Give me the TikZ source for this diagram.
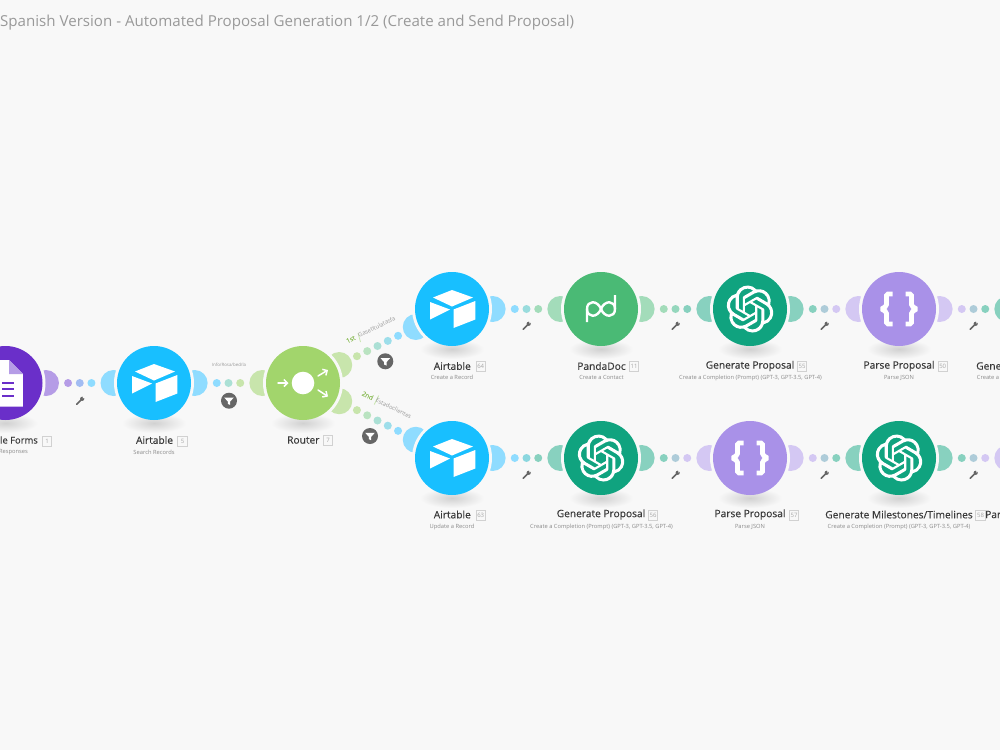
\documentclass[tikz,border=0pt]{standalone}
\usepackage{fontspec}
\setmainfont{Open Sans}
\newfontfamily\semifont[FakeBold=0.35]{Open Sans}
\usetikzlibrary{arrows.meta,calc,svg.path}
\definecolor{bg}{HTML}{F8F8F8}
\definecolor{airc}{HTML}{18BFFF}
\definecolor{airl}{HTML}{8FDCFF}
\definecolor{formc}{HTML}{6A2FC9}
\definecolor{forml}{HTML}{B59CE6}
\definecolor{routc}{HTML}{A2D56C}
\definecolor{routl}{HTML}{C8E5AC}
\definecolor{pandc}{HTML}{4ABA75}
\definecolor{pandl}{HTML}{A3DCBA}
\definecolor{oaic}{HTML}{10A37F}
\definecolor{oail}{HTML}{88D1BF}
\definecolor{jsonc}{HTML}{A991E8}
\definecolor{jsonl}{HTML}{D4C8F3}
\definecolor{titlec}{HTML}{3A3A3A}
\definecolor{subc}{HTML}{8A8A8A}
\tikzset{
  modnode/.style={circle,minimum size=74pt,inner sep=0pt,draw=none},
  maskdisc/.style={circle,minimum size=80pt,inner sep=0pt,fill=bg,draw=none},
  eardisc/.style={circle,minimum size=26pt,inner sep=0pt,draw=none},
  linkdot/.style={circle,minimum size=8pt,inner sep=0pt,draw=none},
  titletext/.style={inner sep=0pt,text=titlec,font=\semifont\fontsize{10.2}{12}\selectfont},
  subtext/.style={inner sep=0pt,text=subc,font=\fontsize{5.75}{7}\selectfont},
  badge/.style={draw=black!18,line width=.6pt,minimum width=9.5pt,minimum height=10pt,inner sep=0pt,text=black!35,font=\fontsize{6}{7}\selectfont},
  filterdisc/.style={circle,minimum size=16pt,inner sep=0pt,fill=black!60,draw=none},
  tinylabel/.style={inner sep=0pt,text=black!40,font=\fontsize{4.4}{6}\selectfont},
  tinyroute/.style={inner sep=0pt,text=black!40,font=\fontsize{5.8}{7}\selectfont},
  ordlabel/.style={inner sep=0pt,text=routc!90!black,font=\semifont\fontsize{6.5}{8}\selectfont},
  airicon/.pic={
    \fill[white] (0,-19)--(21,-11.5)--(0,-2.5)--(-19,-11.5)--cycle;
    \fill[white] (-22,-7)--(-2,.5)--(-22,10.5)--cycle;
    \fill[white] (1.5,.5)--(23.3,-8)--(23.3,10.5)--(1.5,19)--cycle;
  },
  oaiicon/.pic={
    \fill[white,shift={(-23.5,-23.5)},scale=1.96,yscale=-1] svg {M 22.2819 9.8211 a 5.9847 5.9847 0 0 0 -0.5157 -4.9108 a 6.0462 6.0462 0 0 0 -6.5098 -2.9 A 6.0651 6.0651 0 0 0 4.9807 4.1818 a 5.9847 5.9847 0 0 0 -3.9977 2.9 a 6.0462 6.0462 0 0 0 0.7427 7.0966 a 5.98 5.98 0 0 0 0.511 4.9107 a 6.051 6.051 0 0 0 6.5146 2.9001 A 5.9847 5.9847 0 0 0 13.2599 24 a 6.0557 6.0557 0 0 0 5.7718 -4.2058 a 5.9894 5.9894 0 0 0 3.9977 -2.9001 a 6.0557 6.0557 0 0 0 -0.7475 -7.0729 z
    M 13.2599 22.4292 a 4.4755 4.4755 0 0 1 -2.8764 -1.0408 l 0.1419 -0.0804 l 4.7783 -2.7582 l 0.3927 -0.6813 v -6.7369 l 2.02 1.1686 l 0.038 0.052 v 5.5826 a 4.504 4.504 0 0 1 -4.4945 4.4944 z
    M 3.5992 18.3038 a 4.4708 4.4708 0 0 1 -0.5346 -3.0137 l 0.142 0.0852 l 4.783 2.7582 l 0.7806 0 l 5.8428 -3.3685 v 2.3324 l -0.0332 0.0615 L 9.74 19.9502 a 4.4992 4.4992 0 0 1 -6.1408 -1.6464 z
    M 2.3408 7.8956 a 4.485 4.485 0 0 1 2.3655 -1.9728 V 11.6 l 0.3879 0.6765 l 5.8144 3.3543 l -2.0201 1.1685 l -0.071 0 l -4.8303 -2.7865 A 4.504 4.504 0 0 1 2.3408 7.872 z
    M 18.9371 11.7514 L 13.1038 8.364 L 15.1192 7.2 l 0.071 0 l 4.8303 2.7913 a 4.4944 4.4944 0 0 1 -0.6765 8.1042 v -5.6772 l -0.407 -0.667 z
    M 20.9478 8.7283 l -0.142 -0.0852 l -4.7735 -2.7818 l -0.7854 0 L 9.409 9.2297 V 6.8974 l 0.0284 -0.0615 l 4.8303 -2.7866 a 4.4992 4.4992 0 0 1 6.6802 4.66 z
    M 8.3065 12.863 l -2.02 -1.1638 l -0.038 -0.0567 V 6.0742 a 4.4992 4.4992 0 0 1 7.3757 -3.4537 l -0.142 0.0805 L 8.704 5.459 l -0.3927 0.6813 z
    M 9.4041 10.4976 l 2.602 -1.4998 l 2.6069 1.4998 v 2.9994 l -2.5974 1.4997 l -2.6067 -1.4997 z};
  },
  jsonicon/.pic={
    \draw[white,line width=4.8pt,rounded corners=1.5pt] (-6.5,-15)--(-12.5,-15)--(-12.5,-3)--(-17.5,0)--(-12.5,3)--(-12.5,15)--(-6.5,15);
    \draw[white,line width=4.8pt,rounded corners=1.5pt] (6.5,-15)--(12.5,-15)--(12.5,-3)--(17.5,0)--(12.5,3)--(12.5,15)--(6.5,15);
  },
  pandaicon/.pic={
    \draw[white,line width=2.4pt] (-14,13)--(-14,0) .. controls (-14,-9) and (-3.5,-9) .. (0,0) .. controls (3.5,9) and (14,9) .. (14,0)--(14,-14);
    \draw[white,line width=2.4pt] (-14,0) .. controls (-14,9) and (-3.5,9) .. (0,0) .. controls (3.5,-9) and (14,-9) .. (14,0);
  },
  formicon/.pic={
    \fill[white] (-16,-23)--(3.5,-23)--(17.3,-9)--(17.3,23.7)--(-16,23.7)--cycle;
    \fill[forml] (3.5,-23)--(17.3,-9)--(3.5,-9)--cycle;
    \foreach \yy in {-.3,6.3,13}{\fill[formc] (-3.8,\yy-1)rectangle(8.8,\yy+1);}
  },
  routericon/.pic={
    \fill[white] (0,0) circle (11.3);
    \begin{scope}[white,line width=1.5pt,line cap=round,-{Straight Barb[length=3.5pt,width=7pt]}]
      \draw (-25,0)--(-14.5,0);
      \draw (15,-7)--(25,-13);
      \draw (15,7)--(25,13.5);
    \end{scope}
  },
  wrenchicon/.pic={
    \draw[black!60,line width=1.5pt,line cap=round] (-3.4,3.4)--(1.8,-1.8);
    \fill[black!60] (2.2,-2.2) circle (2.1);
    \fill[bg] (3.1,-4.6)--(4.6,-3.1)--(2.6,-2.6)--cycle;
  },
  funnelicon/.pic={
    \fill[white] (-4.8,-3.2)--(4.8,-3.2)--(1.2,.8)--(1.2,4.2)--(-1.2,3.2)--(-1.2,.8)--cycle;
  },
  shadowblob/.style={inner color=black!18,outer color=bg,draw=none}
}
\newcommand{\shadowat}[1]{\shade[shadowblob] ($(#1)+(0,40)$) ellipse (32 and 10);}
\newcommand{\earlink}[6]{%
  \path (#1)--(#2)
    node[eardisc,fill=#3,pos=#5]{}
    node[eardisc,fill=#4,pos=#6]{};
}
\newcommand{\threedots}[4]{%
  \path (#1)--(#2)
    node[linkdot,fill=#3,pos=.4212]{}
    node[linkdot,fill=#3!50!#4,pos=.5]{}
    node[linkdot,fill=#4,pos=.5788]{};
}
\newcommand{\fivedots}[4]{%
  \path (#1)--(#2)
    node[linkdot,fill=#3,pos=.362]{}
    node[linkdot,fill=#3!75!#4,pos=.431]{}
    node[linkdot,fill=#3!50!#4,pos=.5]{}
    node[linkdot,fill=#3!25!#4,pos=.569]{}
    node[linkdot,fill=#4,pos=.638]{};
}
\begin{document}
\begin{tikzpicture}[x=1pt,y=-1pt]
\useasboundingbox (0,0) rectangle (1000,750);
\clip (0,0) rectangle (1000,750);
\fill[bg] (0,0) rectangle (1000,750);
\coordinate (forms) at (5.5,383);
\coordinate (a5) at (154,383);
\coordinate (rout) at (303,383);
\coordinate (a64) at (452,309);
\coordinate (pd) at (601,309);
\coordinate (g55) at (750,309);
\coordinate (p50) at (899,309);
\coordinate (g1) at (1048,309);
\coordinate (a63) at (452,458);
\coordinate (g56) at (601,458);
\coordinate (p57) at (750,458);
\coordinate (g2) at (899,458);
\coordinate (p2) at (1048,458);
% ears
\earlink{forms}{a5}{forml}{airl}{.2727}{.7273}
\earlink{a5}{rout}{airl}{routl}{.2727}{.7273}
\earlink{rout}{a64}{routl}{airl}{.2432}{.7568}
\earlink{rout}{a63}{routl}{airl}{.2432}{.7568}
\earlink{a64}{pd}{airl}{pandl}{.2727}{.7273}
\earlink{pd}{g55}{pandl}{oail}{.2727}{.7273}
\earlink{g55}{p50}{oail}{jsonl}{.2727}{.7273}
\earlink{p50}{g1}{jsonl}{oail}{.2727}{.7273}
\earlink{a63}{g56}{airl}{oail}{.2727}{.7273}
\earlink{g56}{p57}{oail}{jsonl}{.2727}{.7273}
\earlink{p57}{g2}{jsonl}{oail}{.2727}{.7273}
\earlink{g2}{p2}{oail}{jsonl}{.2727}{.7273}
% masks
\foreach \m in {forms,a5,rout,a64,pd,g55,p50,a63,g56,p57,g2}{\node[maskdisc] at (\m) {};}
% shadows
\foreach \m in {forms,a5,rout,a64,pd,g55,p50,a63,g56,p57,g2}{\shadowat{\m}}
% modules
\node[modnode,fill=formc] (nforms) at (forms) {};
\node[modnode,fill=airc] (na5) at (a5) {};
\node[modnode,fill=routc] (nrout) at (rout) {};
\node[modnode,fill=airc] (na64) at (a64) {};
\node[modnode,fill=pandc] (npd) at (pd) {};
\node[modnode,fill=oaic] (ng55) at (g55) {};
\node[modnode,fill=jsonc] (np50) at (p50) {};
\node[modnode,fill=airc] (na63) at (a63) {};
\node[modnode,fill=oaic] (ng56) at (g56) {};
\node[modnode,fill=jsonc] (np57) at (p57) {};
\node[modnode,fill=oaic] (ng2) at (g2) {};
% icons
\pic at (forms) {formicon};
\pic at (a5) {airicon};
\pic at (a64) {airicon};
\pic at (a63) {airicon};
\pic at (rout) {routericon};
\pic at (pd) {pandaicon};
\pic at (g55) {oaiicon};
\pic at (g56) {oaiicon};
\pic at (g2) {oaiicon};
\pic at (p50) {jsonicon};
\pic at (p57) {jsonicon};
% dots
\threedots{forms}{a5}{forml}{airl}
\threedots{a5}{rout}{airl}{routl}
\fivedots{rout}{a64}{routl}{airl}
\fivedots{rout}{a63}{routl}{airl}
\threedots{a64}{pd}{airl}{pandl}
\threedots{pd}{g55}{pandl}{oail}
\threedots{g55}{p50}{oail}{jsonl}
\threedots{p50}{g1}{jsonl}{oail}
\threedots{a63}{g56}{airl}{oail}
\threedots{g56}{p57}{oail}{jsonl}
\threedots{p57}{g2}{jsonl}{oail}
\threedots{g2}{p2}{oail}{jsonl}
% wrenches
\foreach \wx/\wy in {80/401,526.5/326,675.5/326,824.5/326,973.5/326,526.5/475,675.5/475,824.5/475,973.5/475}{\pic at (\wx,\wy) {wrenchicon};}
% filters
\node[filterdisc] (f1) at (229,400.7) {}; \pic at (f1) {funnelicon};
\node[filterdisc] (f2) at (385.3,361.3) {}; \pic at (f2) {funnelicon};
\node[filterdisc] (f3) at (370,436) {}; \pic at (f3) {funnelicon};
% route labels
\node[tinylabel] (l1) at (229,365) {Info/Rosa/bed/la};
\node[ordlabel,rotate=26] (o1) at (350.7,339.3) {1st};
\draw[routl,line width=.8pt] (358,333)--(360.5,342);
\node[tinyroute,rotate=26] (l2) at (376.7,326.7) {Gasetitulatasfa};
\node[ordlabel,rotate=-26] (o2) at (367.7,395.5) {2nd};
\draw[routl,line width=.8pt] (378.7,395.5)--(374.3,404.5);
\node[tinyroute,rotate=-26] (l3) at (393.7,408.3) {Estadoclientes};
% title
\node[anchor=west,inner sep=0pt,text=black!40,font=\fontsize{15.1}{18}\selectfont] (head) at (0,22.5) {Spanish Version - Automated Proposal Generation 1/2 (Create and Send Proposal)};
% labels
\node[titletext,anchor=east,font=\semifont\fontsize{9.4}{12}\selectfont] (tforms) at (38,440) {le Forms};
\node[badge] (bforms) at (47,441) {1};
\node[subtext,anchor=east] (sforms) at (28,452) {Responses};
\node[titletext] (ta5) at (154.5,440) {Airtable};
\node[badge] (ba5) at (182.5,441) {5};
\node[subtext] (sa5) at (154,452) {Search Records};
\node[titletext] (trout) at (303.3,440) {Router};
\node[badge] (brout) at (328,440) {7};
\node[titletext] (ta64) at (452.3,366) {Airtable};
\node[badge] (ba64) at (480.7,366.5) {64};
\node[subtext] (sa64) at (452,377.5) {Create a Record};
\node[titletext] (tpd) at (601.5,366) {PandaDoc};
\node[badge] (bpd) at (634,366.5) {11};
\node[subtext] (spd) at (601.5,377.5) {Create a Contact};
\node[titletext] (tg55) at (750,366) {Generate Proposal};
\node[badge] (bg55) at (802,366.5) {55};
\node[subtext] (sg55) at (750.5,377.5) {Create a Completion (Prompt) (GPT-3, GPT-3.5, GPT-4)};
\node[titletext] (tp50) at (899,366) {Parse Proposal};
\node[badge] (bp50) at (942.7,366.5) {50};
\node[subtext] (sp50) at (899,377.5) {Parse JSON};
\node[titletext,anchor=west] (tg1) at (976,366) {Gene};
\node[subtext,anchor=west] (sg1) at (976.7,377.5) {Create a};
\node[titletext] (ta63) at (452.3,514.5) {Airtable};
\node[badge] (ba63) at (480.7,515) {63};
\node[subtext] (sa63) at (452,526.5) {Update a Record};
\node[titletext] (tg56) at (601,514.5) {Generate Proposal};
\node[badge] (bg56) at (653,515) {56};
\node[subtext] (sg56) at (601.5,526.5) {Create a Completion (Prompt) (GPT-3, GPT-3.5, GPT-4)};
\node[titletext] (tp57) at (750,514.5) {Parse Proposal};
\node[badge] (bp57) at (794,515) {57};
\node[subtext] (sp57) at (750,526.5) {Parse JSON};
\node[titletext] (tg2) at (899,514.5) {Generate Milestones/Timelines};
\node[badge] (bg2) at (980.5,515) {58};
\node[subtext] (sg2) at (899,526.5) {Create a Completion (Prompt) (GPT-3, GPT-3.5, GPT-4)};
\node[titletext,anchor=west] (tp2) at (985,514.5) {Par};
\end{tikzpicture}
\end{document}
